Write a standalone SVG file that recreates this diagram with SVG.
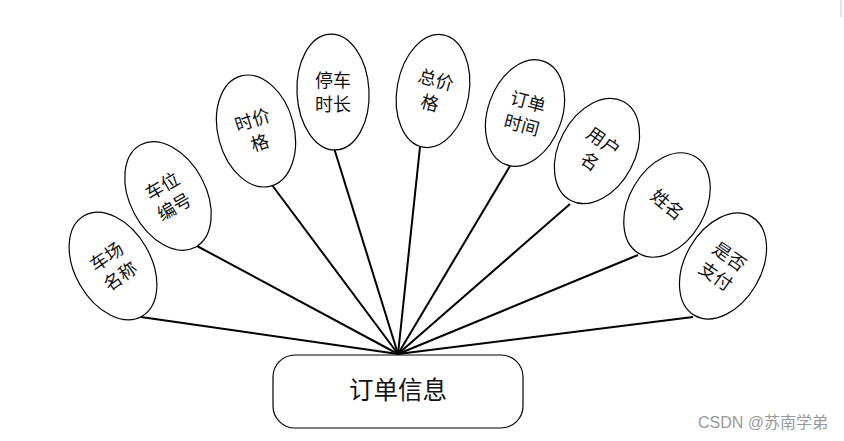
<svg xmlns="http://www.w3.org/2000/svg" width="844" height="441" viewBox="0 0 844 441">
<style>
.e{fill:#fff;stroke:#000;stroke-width:1.2}
.t{font-family:"Noto Sans CJK SC","Noto Sans CJK JP",sans-serif;font-size:18px;fill:#111;text-anchor:middle}
.c{stroke:#000;stroke-width:2;fill:none}
</style>
<rect width="844" height="441" fill="#fff"/>
<line x1="841" y1="0" x2="841" y2="17" stroke="#ccc" stroke-width="1"/>
<g id="connectors">
<line class="c" x1="141" y1="317" x2="398" y2="354"/>
<line class="c" x1="197" y1="246" x2="398" y2="354"/>
<line class="c" x1="272" y1="185" x2="398" y2="354"/>
<line class="c" x1="334" y1="148" x2="398" y2="354"/>
<line class="c" x1="420" y1="147" x2="398" y2="354"/>
<line class="c" x1="510" y1="166" x2="398" y2="354"/>
<line class="c" x1="570" y1="204" x2="398" y2="354"/>
<line class="c" x1="638" y1="255" x2="398" y2="354"/>
<line class="c" x1="693" y1="317" x2="398" y2="354"/>
</g>
<g id="n1" transform="translate(113,266) rotate(-30)">
<ellipse class="e" rx="38" ry="58"/>
<g transform="rotate(-5)"><text class="t" y="-5">车场</text><text class="t" y="19">名称</text></g>
</g>
<g id="n2" transform="translate(168,196) rotate(-28)">
<ellipse class="e" rx="38" ry="58"/>
<g transform="rotate(-2)"><text class="t" y="-5">车位</text><text class="t" y="19">编号</text></g>
</g>
<g id="n3" transform="translate(256,131) rotate(-15)">
<ellipse class="e" rx="38" ry="57"/>
<g transform="rotate(-3)"><text class="t" y="-5">时价</text><text class="t" y="19">格</text></g>
</g>
<g id="n4" transform="translate(333,92) rotate(-3)">
<ellipse class="e" rx="36" ry="58"/>
<g transform="rotate(3)"><text class="t" y="-5">停车</text><text class="t" y="19">时长</text></g>
</g>
<g id="n5" transform="translate(433,91) rotate(10)">
<ellipse class="e" rx="36" ry="57"/>
<g transform="rotate(5)"><text class="t" y="-5">总价</text><text class="t" y="19">格</text></g>
</g>
<g id="n6" transform="translate(525,113) rotate(20)">
<ellipse class="e" rx="37" ry="55"/>
<g transform="rotate(-5)"><text class="t" y="-5">订单</text><text class="t" y="19">时间</text></g>
</g>
<g id="n7" transform="translate(597,151) rotate(28)">
<ellipse class="e" rx="38" ry="56"/>
<g transform="rotate(7)"><text class="t" y="-5">用户</text><text class="t" y="19">名</text></g>
</g>
<g id="n8" transform="translate(667,205) rotate(30)">
<ellipse class="e" rx="38" ry="56"/>
<g transform="rotate(10)"><text class="t" y="6">姓名</text></g>
</g>
<g id="n9" transform="translate(723,266) rotate(30)">
<ellipse class="e" rx="38" ry="57"/>
<g transform="rotate(5)"><text class="t" y="-5">是否</text><text class="t" y="19">支付</text></g>
</g>
<g id="main">
<rect x="273" y="355" width="250" height="73" rx="22" ry="22" fill="#fff" stroke="#000" stroke-width="1.2"/>
<text x="398" y="399" font-family="Noto Sans CJK SC, sans-serif" font-size="24.5" text-anchor="middle" fill="#111">订单信息</text>
</g>
<text x="763" y="428" font-family="Liberation Sans, Noto Sans CJK SC, sans-serif" font-size="16" text-anchor="middle" fill="#999">CSDN @苏南学弟</text>
</svg>
